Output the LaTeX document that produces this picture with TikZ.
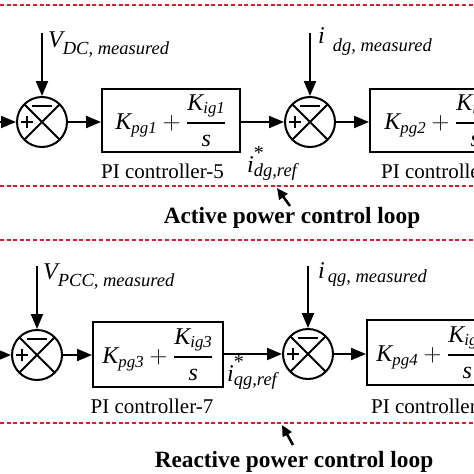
\documentclass[tikz,border=0pt]{standalone}
\usepackage{fontspec}
\usepackage{amsmath}
\setmainfont{Liberation Serif}
\usetikzlibrary{arrows.meta,calc}
\newcommand\ti[1]{\text{\itshape #1}}
\newcommand\fs[1]{\fontsize{#1}{#1}\selectfont}
\definecolor{dashred}{RGB}{225,25,45}
\tikzset{
  sumj/.style={circle, draw, line width=2pt, minimum size=50pt, inner sep=0pt,
    path picture={
      \draw[line width=2pt] (path picture bounding box.north west) -- (path picture bounding box.south east)
        (path picture bounding box.north east) -- (path picture bounding box.south west);
      \draw[line width=2pt] ([shift={(-10pt,16pt)}]path picture bounding box.center) -- ([shift={(10pt,16pt)}]path picture bounding box.center);
      \draw[line width=1.3pt] ([shift={(-21pt,0pt)}]path picture bounding box.center) -- ([shift={(-9pt,0pt)}]path picture bounding box.center)
        ([shift={(-15pt,-6pt)}]path picture bounding box.center) -- ([shift={(-15pt,6pt)}]path picture bounding box.center);
    }},
  pibox/.style={draw, line width=2pt, minimum height=63pt, inner sep=0pt},
  arr/.style={line width=2pt, -{Triangle[length=15pt,width=12pt]}},
  ptr/.style={line width=2.5pt, -{Triangle[length=11pt,width=10pt]}},
  redline/.style={draw=dashred, line width=2pt, dash pattern=on 4pt off 2.6pt},
  lbl/.style={anchor=base west, inner sep=0pt},
  ctl/.style={anchor=base, inner sep=0pt, font=\fs{21}},
  bold/.style={anchor=base, inner sep=0pt, font=\fs{23.3}\bfseries},
}
\begin{document}
\begin{tikzpicture}[x=1pt, y=-1pt]
\clip (0,0) rectangle (474,474);
\fill[white] (0,0) rectangle (474,474);

% red dashed separators
\coordinate (d1a) at (0,5);   \coordinate (d1b) at (474,5);
\coordinate (d2a) at (0,186); \coordinate (d2b) at (474,186);
\coordinate (d3a) at (0,240); \coordinate (d3b) at (474,240);
\coordinate (d4a) at (0,423); \coordinate (d4b) at (474,423);
\draw[redline] (d1a) -- (d1b);
\draw[redline] (d2a) -- (d2b);
\draw[redline] (d3a) -- (d3b);
\draw[redline] (d4a) -- (d4b);

% ---------------- Active power loop ----------------
\node[sumj] (s1) at (42,122) {};
\node[sumj] (s2) at (310,122) {};
\node[pibox, minimum width=138pt] (b1) at (171,120.5)
  {\fs{24}$\ti{K}_{\ti{pg1}}+\genfrac{}{}{1.6pt}{0}{\ti{K}_{\ti{ig1}}}{\ti{s}}$};
\node[pibox, minimum width=140pt] (b2) at (440,120.5)
  {\fs{24}$\ti{K}_{\ti{pg2}}+\genfrac{}{}{1.6pt}{0}{\ti{K}_{\ti{ig2}}}{\ti{s}}$};

\coordinate (in1) at (-5,122);
\coordinate (m1) at (42,33);
\coordinate (m2) at (310,33);
\draw[arr] (in1) -- (s1.west);
\draw[arr] (m1) -- (s1.north);
\draw[arr] (s1.east) -- (s1.east -| b1.west);
\draw[arr] (b1.east |- s2.west) -- (s2.west);
\draw[arr] (m2) -- (s2.north);
\draw[arr] (s2.east) -- (s2.east -| b2.west);

\node[lbl] (lv1) at (48,47) {\fs{24}\itshape V\raisebox{-7pt}{\fs{18.5}DC, measured}};
\node[lbl] (li1) at (318,43) {\fs{24}\itshape i\hspace{8pt}\raisebox{-8pt}{\fs{18.5}dg, measured}};
\node[lbl] (lr1) at (247,172) {\fs{24}\itshape i\makebox[0pt][l]{\raisebox{13pt}{\fs{20}\upshape*}}\raisebox{-4pt}{\fs{18.5}dg,ref}};

\node[ctl] (c5) at (162.5,178) {PI controller-5};
\node[ctl] (c6) at (442.5,178) {PI controller-6};

\node[bold] (t1) at (292,223) {Active power control loop};
\coordinate (p1t) at (290,206);
\coordinate (p1h) at (277,188);
\draw[ptr] (p1t) -- (p1h);

% ---------------- Reactive power loop ----------------
\node[sumj] (s3) at (37,355) {};
\node[sumj] (s4) at (308,354) {};
\node[pibox, minimum width=130pt, minimum height=65pt] (b3) at (158,354.5)
  {\fs{24}$\ti{K}_{\ti{pg3}}+\genfrac{}{}{1.6pt}{0}{\ti{K}_{\ti{ig3}}}{\ti{s}}$};
\node[pibox, minimum width=130pt, minimum height=65pt] (b4) at (432,352.5)
  {\fs{24}$\ti{K}_{\ti{pg4}}+\genfrac{}{}{1.6pt}{0}{\ti{K}_{\ti{ig4}}}{\ti{s}}$};

\coordinate (in3) at (-5,355);
\coordinate (m3) at (37,266);
\coordinate (m4) at (308,266);
\draw[arr] (in3) -- (s3.west);
\draw[arr] (m3) -- (s3.north);
\draw[arr] (s3.east) -- (s3.east -| b3.west);
\draw[arr] (b3.east |- s4.west) -- (s4.west);
\draw[arr] (m4) -- (s4.north);
\draw[arr] (s4.east) -- (s4.east -| b4.west);

\node[lbl] (lv3) at (43,279) {\fs{24}\itshape V\raisebox{-7pt}{\fs{18.5}PCC, measured}};
\node[lbl] (li4) at (318,278) {\fs{24}\itshape i\hspace{3pt}\raisebox{-4pt}{\fs{18.5}qg, measured}};
\node[lbl] (lr3) at (227,381) {\fs{24}\itshape i\makebox[0pt][l]{\raisebox{13pt}{\fs{20}\upshape*}}\raisebox{-4pt}{\fs{18.5}qg,ref}};

\node[ctl] (c7) at (152,413) {PI controller-7};
\node[ctl] (c8) at (432.5,413) {PI controller-8};

\node[bold] (t2) at (294,467) {Reactive power control loop};
\coordinate (p2t) at (293,445);
\coordinate (p2h) at (282,425);
\draw[ptr] (p2t) -- (p2h);
\end{tikzpicture}
\end{document}
